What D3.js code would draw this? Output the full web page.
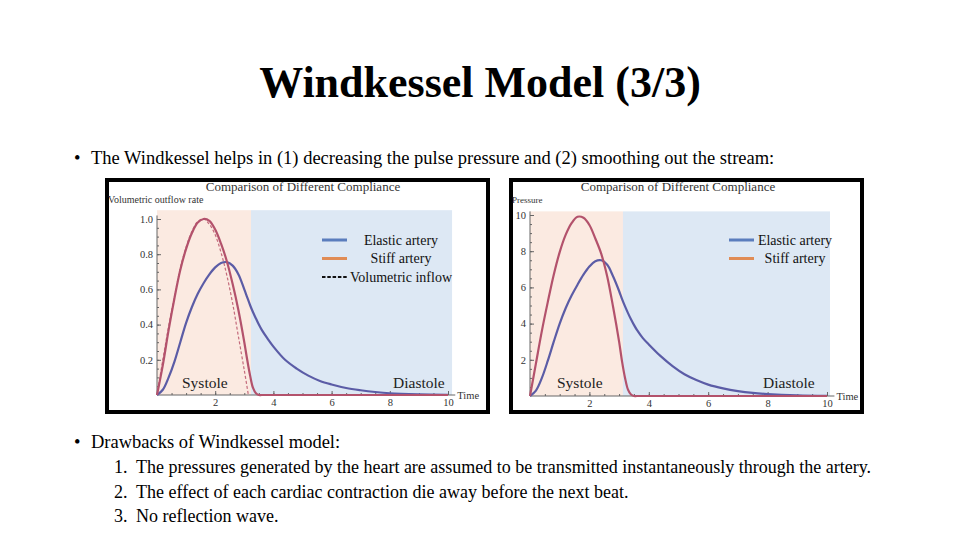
<!DOCTYPE html>
<html>
<head>
<meta charset="utf-8">
<script src="https://cdn.jsdelivr.net/npm/d3@7"></script>
<style>
    body { margin: 0; background: #fff; }
    svg text { font-family: "Liberation Serif", "Times New Roman", serif; }
</style>
</head>
<body>
<svg id="slide" width="960" height="540"></svg>
<script>
// time samples shared by the outflow / pressure curves
const time = [0, 0.2, 0.4, 0.6, 0.8, 1.0, 1.2, 1.4, 1.6, 1.8, 2.0, 2.2, 2.4, 2.6, 2.8, 3.0,
    3.1, 3.2, 3.3, 3.4, 3.5, 3.6, 3.8, 4.0, 4.4, 4.8, 5.2, 5.6, 6.0, 6.5, 7.0, 7.5, 8.0, 9.0, 10.0];

// left: volumetric outflow rate
const flowElastic = [0, 0.03, 0.1, 0.19, 0.3, 0.41, 0.5, 0.575, 0.635, 0.685, 0.725, 0.75, 0.755, 0.735, 0.685, 0.6,
    0.555, 0.51, 0.47, 0.435, 0.4, 0.37, 0.32, 0.275, 0.2, 0.15, 0.11, 0.08, 0.06, 0.04, 0.027, 0.017, 0.01, 0.004, 0.001];
const flowStiff = [0, 0.17, 0.37, 0.55, 0.71, 0.83, 0.92, 0.98, 1.0, 0.99, 0.94, 0.86, 0.76, 0.63, 0.48, 0.3,
    0.2, 0.11, 0.04, 0.01, 0, 0, 0, 0, 0, 0, 0, 0, 0, 0, 0, 0, 0, 0, 0];

// left: inflow (only during systole)
const inflowTime = [0, 0.2, 0.4, 0.6, 0.8, 1.0, 1.2, 1.4, 1.6, 1.8, 2.0, 2.2, 2.4, 2.6, 2.8, 3.0, 3.14];
const inflow = [0, 0.2, 0.39, 0.56, 0.72, 0.84, 0.93, 0.985, 1.0, 0.97, 0.91, 0.81, 0.68, 0.52, 0.33, 0.14, 0];

// right: pressure
const pressureElastic = [0, 0.3, 1.0, 1.95, 3.0, 4.0, 4.85, 5.55, 6.15, 6.7, 7.15, 7.45, 7.5, 7.25, 6.6, 5.8,
    5.35, 4.95, 4.58, 4.24, 3.93, 3.65, 3.2, 2.85, 2.2, 1.65, 1.2, 0.88, 0.63, 0.42, 0.27, 0.17, 0.11, 0.04, 0.01];
const pressureStiff = [0, 1.8, 3.6, 5.2, 6.7, 7.95, 8.9, 9.55, 9.9, 9.85, 9.45, 8.7, 7.85, 6.6, 4.9, 3.0,
    1.9, 1.0, 0.35, 0.08, 0, 0, 0, 0, 0, 0, 0, 0, 0, 0, 0, 0, 0, 0, 0];

const xTicks = [2, 4, 6, 8, 10];
const flowTicks = [0.2, 0.4, 0.6, 0.8, 1.0];
const pressureTicks = [2, 4, 6, 8, 10];

const colors = {
    elastic: '#5b5ca6',
    stiff: '#b3526c',
    inflow: '#c46b7c',
    legendElastic: '#5a7dbd',
    legendStiff: '#e08c55',
    systole: '#fbeae1',
    diastole: '#dde8f4'
};

const svg = d3.select('#slide');

class CompliancePlot {
    constructor(config) {
        this.config = config;
        this.init();
    }

    init() {
        const c = this.config;
        this.g = svg.append('g');

        // black frame
        this.g.append('rect')
            .attr('x', c.frame[0]).attr('y', c.frame[1])
            .attr('width', c.frame[2]).attr('height', c.frame[3])
            .attr('fill', '#fff').attr('stroke', '#000').attr('stroke-width', 4);

        this.xscale = d3.scaleLinear().domain([0, 10]).range(c.xRange);
        this.yscale = d3.scaleLinear().domain([0, c.yMax]).range(c.yRange);
    }

    render() {
        const c = this.config;
        const x = this.xscale, y = this.yscale;
        const top = y(c.bgTop);

        // systole / diastole shading
        this.g.append('rect')
            .attr('x', x(0)).attr('y', top)
            .attr('width', x(c.split) - x(0)).attr('height', y(0) - top)
            .attr('fill', colors.systole);
        this.g.append('rect')
            .attr('x', x(c.split)).attr('y', top)
            .attr('width', x(c.bgRight) - x(c.split)).attr('height', y(0) - top)
            .attr('fill', colors.diastole);

        // axes
        const axisColor = '#666';
        const xMinor = d3.range(0.5, 10.01, 0.5);
        const yMinor = d3.range(c.yMinor, c.yMax * 1.001, c.yMinor);

        const xg = this.g.append('g').attr('transform', `translate(0, ${y(0)})`);
        xg.call(d3.axisBottom(x).tickValues(xMinor).tickSize(-2).tickFormat(''));
        xg.append('g').call(d3.axisBottom(x).tickValues(xTicks).tickSize(-4).tickPadding(4));
        const yg = this.g.append('g').attr('transform', `translate(${x(0)}, 0)`);
        yg.call(d3.axisLeft(y).tickValues(yMinor).tickSize(-2).tickFormat(''));
        yg.append('g').call(d3.axisLeft(y).tickValues(c.yTicks).tickSize(-4).tickPadding(4)
            .tickFormat(c.yFormat));

        this.g.selectAll('.domain').remove();
        this.g.selectAll('.tick line').attr('stroke', axisColor);
        this.g.selectAll('.tick text')
            .attr('fill', '#333').attr('font-size', 10.5)
            .attr('font-family', '"Liberation Serif", serif');

        this.g.append('line')
            .attr('x1', x(0)).attr('x2', x(10.25))
            .attr('y1', y(0)).attr('y2', y(0))
            .attr('stroke', axisColor);
        this.g.append('line')
            .attr('x1', x(0)).attr('x2', x(0))
            .attr('y1', y(0)).attr('y2', y(c.yMax * 1.02))
            .attr('stroke', axisColor);

        // curves
        const line = d3.line()
            .x(d => x(d[0]))
            .y(d => y(d[1]))
            .curve(d3.curveCatmullRom.alpha(0.5));

        if (c.inflow) {
            this.g.append('path')
                .datum(d3.zip(inflowTime, c.inflow))
                .attr('d', line)
                .attr('fill', 'none')
                .attr('stroke', colors.inflow)
                .attr('stroke-width', 1.2)
                .attr('stroke-dasharray', '3,2');
        }
        this.g.append('path')
            .datum(d3.zip(time, c.elastic))
            .attr('d', line)
            .attr('fill', 'none')
            .attr('stroke', colors.elastic)
            .attr('stroke-width', 2.2);
        this.g.append('path')
            .datum(d3.zip(time, c.stiff))
            .attr('d', line)
            .attr('fill', 'none')
            .attr('stroke', colors.stiff)
            .attr('stroke-width', 2.2);

        // labels
        this.g.append('text')
            .attr('x', c.titleX).attr('y', 191)
            .attr('text-anchor', 'middle')
            .attr('font-size', 13).attr('fill', '#333')
            .text('Comparison of Different Compliance');
        this.g.append('text')
            .attr('x', c.frame[0] + 1).attr('y', 203)
            .attr('font-size', c.yLabelSize).attr('fill', '#333')
            .text(c.yLabel);
        this.g.append('text')
            .attr('x', x(10.25) + 2).attr('y', y(0) + 4)
            .attr('font-size', 10.5).attr('fill', '#333')
            .text('Time');

        this.g.append('text')
            .attr('x', c.systoleX).attr('y', 388)
            .attr('font-size', 15.5).attr('fill', '#222')
            .text('Systole');
        this.g.append('text')
            .attr('x', c.diastoleX).attr('y', 388)
            .attr('font-size', 15.5).attr('fill', '#222')
            .text('Diastole');

        // legend
        c.legend.forEach((item, i) => {
            const ly = c.legendY + i * 18.5;
            this.g.append('line')
                .attr('x1', c.legendX).attr('x2', c.legendX + 25)
                .attr('y1', ly).attr('y2', ly)
                .attr('stroke', item.color)
                .attr('stroke-width', item.dash ? 2.2 : 3)
                .attr('stroke-dasharray', item.dash ? '3.5,1.8' : null);
            this.g.append('text')
                .attr('x', c.legendTextX).attr('y', ly + 4.5)
                .attr('text-anchor', 'middle')
                .attr('font-size', 14).attr('fill', '#111')
                .text(item.label);
        });
    }
}

// slide text
svg.append('text')
    .attr('x', 480).attr('y', 97)
    .attr('text-anchor', 'middle')
    .attr('font-size', 44).attr('font-weight', 'bold')
    .text('Windkessel Model (3/3)');

const bullets = [
    {y: 164, text: 'The Windkessel helps in (1) decreasing the pulse pressure and (2) smoothing out the stream:'},
    {y: 448, text: 'Drawbacks of Windkessel model:'}
];
bullets.forEach(b => {
    svg.append('text').attr('x', 74).attr('y', b.y).attr('font-size', 18.5).text('•');
    svg.append('text').attr('x', 91).attr('y', b.y).attr('font-size', 18.5).text(b.text);
});

const drawbacks = [
    'The pressures generated by the heart are assumed to be transmitted instantaneously through the artery.',
    'The effect of each cardiac contraction die away before the next beat.',
    'No reflection wave.'
];
drawbacks.forEach((d, i) => {
    const y = 473 + i * 24.5;
    svg.append('text').attr('x', 114).attr('y', y).attr('font-size', 18).text(`${i + 1}.`);
    svg.append('text').attr('x', 136).attr('y', y).attr('font-size', 18).text(d);
});

const flowPlot = new CompliancePlot({
    frame: [107, 180, 381, 232],
    xRange: [157, 448],
    yRange: [395, 219],
    yMax: 1,
    yTicks: flowTicks,
    yMinor: 0.05,
    yFormat: d3.format('.1f'),
    bgTop: 1.05,
    bgRight: 10.14,
    split: 3.23,
    elastic: flowElastic,
    stiff: flowStiff,
    inflow: inflow,
    yLabel: 'Volumetric outflow rate',
    yLabelSize: 10,
    titleX: 303,
    systoleX: 182,
    diastoleX: 393,
    legendX: 322,
    legendY: 240,
    legendTextX: 401,
    legend: [
        {label: 'Elastic artery', color: colors.legendElastic},
        {label: 'Stiff artery', color: colors.legendStiff},
        {label: 'Volumetric inflow', color: '#111', dash: true}
    ]
});
flowPlot.render();

const pressurePlot = new CompliancePlot({
    frame: [511, 180, 351, 232],
    xRange: [530, 827],
    yRange: [396, 215],
    yMax: 10,
    yTicks: pressureTicks,
    yMinor: 0.5,
    yFormat: d3.format('d'),
    bgTop: 10.2,
    bgRight: 10.1,
    split: 3.13,
    elastic: pressureElastic,
    stiff: pressureStiff,
    inflow: null,
    yLabel: 'Pressure',
    yLabelSize: 9,
    titleX: 678,
    systoleX: 557,
    diastoleX: 763,
    legendX: 729,
    legendY: 240,
    legendTextX: 795,
    legend: [
        {label: 'Elastic artery', color: colors.legendElastic},
        {label: 'Stiff artery', color: colors.legendStiff}
    ]
});
pressurePlot.render();
</script>
</body>
</html>
